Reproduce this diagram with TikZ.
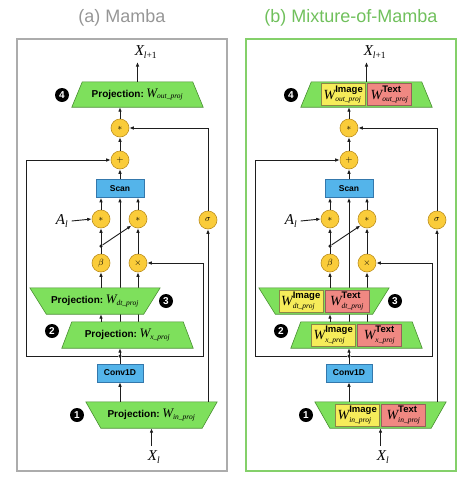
\documentclass[tikz,border=0pt]{standalone}
\usepackage{fontspec}
\setmainfont{Liberation Serif}
\setsansfont{Liberation Sans}
\usetikzlibrary{arrows.meta}
\pgfdeclarelayer{bg}
\pgfsetlayers{bg,main}

\definecolor{projgreen}{RGB}{126,224,92}
\definecolor{projedge}{RGB}{72,142,48}
\definecolor{scanblue}{RGB}{84,180,234}
\definecolor{scanedge}{RGB}{52,120,172}
\definecolor{opfill}{RGB}{250,204,58}
\definecolor{opedge}{RGB}{188,142,30}
\definecolor{imgfill}{RGB}{246,236,90}
\definecolor{imgedge}{RGB}{140,134,70}
\definecolor{txtfill}{RGB}{240,136,130}
\definecolor{txtedge}{RGB}{150,96,90}
\definecolor{framegray}{RGB}{172,172,172}
\definecolor{titlegray}{RGB}{150,150,150}
\definecolor{framegreen}{RGB}{132,208,106}
\definecolor{titlegreen}{RGB}{112,192,92}
\definecolor{wire}{RGB}{30,30,30}

\newcommand{\projlbl}[1]{\textsf{\bfseries Projection:}\ $\mbox{\fontsize{13}{13}\selectfont\itshape W}_{\mbox{\fontsize{7.5}{8}\selectfont\itshape #1}}$}
\newcommand{\wlbl}[2]{$\mbox{\fontsize{14}{14}\selectfont\itshape W}^{\mbox{\fontsize{9.5}{10}\selectfont\sffamily\bfseries #1}}_{\mbox{\fontsize{7.5}{8}\selectfont\itshape #2}}$}
\newcommand{\varlbl}[2]{$\mbox{\fontsize{15}{15}\selectfont\itshape #1}_{\mbox{\fontsize{9.5}{10}\selectfont #2}}$}
% trapezoid drawn on a named spot: name, top inset, bottom inset
\newcommand{\trap}[3]{%
  \filldraw[draw=projedge, fill=projgreen, line width=0.6pt]
    ([xshift=#2]#1.north west) -- ([xshift=-#2]#1.north east)
    -- ([xshift=-#3]#1.south east) -- ([xshift=#3]#1.south west) -- cycle;}

\tikzset{
  ttl/.style={font=\sffamily\fontsize{18}{20}\selectfont},
  arr/.style={draw=wire, line width=0.9pt, -{Latex[length=4.5pt,width=3.6pt]}},
  projspot/.style={rectangle, minimum width=131pt, minimum height=26pt, inner sep=0pt},
  opnode/.style={circle, draw=opedge, fill=opfill, line width=0.6pt, minimum size=18pt, inner sep=0pt, font=\fontsize{9.5}{9.5}\selectfont},
  blockbox/.style={rectangle, draw=scanedge, fill=scanblue, line width=0.6pt, minimum height=18pt, inner sep=0pt, font=\sffamily\bfseries\fontsize{8.5}{9}\selectfont},
  badge/.style={circle, fill=black, minimum size=14pt, inner sep=0pt, text=white, font=\sffamily\bfseries\fontsize{10}{10}\selectfont},
  imgbox/.style={rectangle, draw=imgedge, fill=imgfill, line width=0.6pt, minimum width=44pt, minimum height=22pt, inner sep=0pt},
  txtbox/.style={rectangle, draw=txtedge, fill=txtfill, line width=0.6pt, minimum width=44pt, minimum height=22pt, inner sep=0pt},
  joint/.style={circle, fill=wire, inner sep=0pt, minimum size=3.5pt},
}

\begin{document}
\begin{tikzpicture}[x=1pt, y=-1pt]
\useasboundingbox (0,0) rectangle (474,485);
\node[ttl, text=titlegray] (ttla) at (122,18) {(a) Mamba};
\node[ttl, text=titlegreen] (ttlb) at (351,18) {(b) Mixture-of-Mamba};

\foreach \p/\dx/\fc in {a/0/framegray, b/229/framegreen}{
  \begin{scope}[xshift=\dx]
    \draw[draw=\fc, line width=2pt] (17,39) rectangle (227,471);
    % projections
    \node[projspot, minimum height=25pt] (\p-outp) at (137.5,94.5) {};
    \node[projspot, minimum width=130pt] (\p-dtp) at (95,301) {};
    \node[projspot] (\p-xp) at (127.5,335) {};
    \node[projspot] (\p-inp) at (151.5,415) {};
    \trap{\p-outp}{10.5pt}{0pt}
    \trap{\p-dtp}{0pt}{16.5pt}
    \trap{\p-xp}{10pt}{0pt}
    \trap{\p-inp}{0pt}{15pt}
    \node[blockbox, minimum width=48pt] (\p-scan) at (120,188.5) {Scan};
    \node[blockbox, minimum width=46pt] (\p-conv) at (120,373) {Conv1D};
    % operators
    \node[opnode] (\p-mulo) at (120,128) {$\ast$};
    \node[opnode] (\p-plus) at (120,160) {$+$};
    \node[opnode] (\p-mula) at (101,219) {$\ast$};
    \node[opnode] (\p-mulb) at (138,219) {$\ast$};
    \node[opnode] (\p-beta) at (101,263) {$\beta$};
    \node[opnode] (\p-cross) at (138,263) {$\times$};
    \node[opnode] (\p-sig) at (208,220) {$\sigma$};
    \node[joint] (\p-dot) at (101,246) {};
    \node[joint] (\p-fork) at (120,356) {};
    \coordinate (\p-loopl) at (26,356);
    \coordinate (\p-loopr) at (203,356);
    \coordinate (\p-xo) at (137.5,62);
    \coordinate (\p-xi) at (151.5,446);
    % labels
    \node (\p-xout) at (146,52) {\varlbl{X}{\itshape l\upshape +1}};
    \node (\p-xin) at (154,457) {\varlbl{X}{\itshape l}};
    \node (\p-al) at (62,221) {\varlbl{A}{\itshape l}};
    \node[badge] (\p-n4) at (62,95) {4};
    \node[badge] (\p-n3) at (166,301) {3};
    \node[badge] (\p-n2) at (52,331) {2};
    \node[badge] (\p-n1) at (77,415) {1};
    % connectors
    \begin{pgfonlayer}{bg}
      \draw[arr] (\p-xp.north -| \p-scan.south) -- (\p-scan.south);
      \draw[arr] (\p-cross.south |- \p-xp.north) -- (\p-cross.south);
    \end{pgfonlayer}
    \draw[arr] (\p-outp.north) -- (\p-xo);
    \draw[arr] (\p-xi) -- (\p-inp.south);
    \draw[arr] (\p-mulo.north) -- (\p-mulo.north |- \p-outp.south);
    \foreach \from/\to in {plus/mulo, scan/plus, cross/mulb, beta/mula}
      \draw[arr] (\p-\from.north) -- (\p-\to.south);
    \draw[arr] (\p-mula.north) -- (\p-mula.north |- \p-scan.south);
    \draw[arr] (\p-mulb.north) -- (\p-mulb.north |- \p-scan.south);
    \draw[arr] (\p-dot) -- (\p-mulb.south west);
    \draw[arr] (\p-al.east) -- (\p-mula.west);
    \draw[arr] (\p-beta.south |- \p-dtp.north) -- (\p-beta.south);
    \draw[arr] (\p-beta.south |- \p-xp.north) -- (\p-beta.south |- \p-dtp.south);
    \draw[arr] (\p-conv.north) -- (\p-conv.north |- \p-xp.south);
    \draw[arr] (\p-conv.south |- \p-inp.north) -- (\p-conv.south);
    \draw[arr] (\p-sig.south |- \p-inp.north) -- (\p-sig.south);
    \draw[arr] (\p-sig.north) |- (\p-mulo.east);
    \draw[arr] (\p-fork) -- (\p-loopl) |- (\p-plus.west);
    \draw[arr] (\p-fork) -- (\p-loopr) |- (\p-cross.east);
  \end{scope}
}

% (a) labels
\node (a-outtxt) at (a-outp) {\projlbl{out\_proj}};
\node (a-dttxt) at (a-dtp) {\projlbl{dt\_proj}};
\node (a-xtxt) at (a-xp) {\projlbl{x\_proj}};
\node (a-intxt) at (a-inp) {\projlbl{in\_proj}};
% (b) expert weights
\foreach \w/\s in {outp/out\_proj, dtp/dt\_proj, xp/x\_proj, inp/in\_proj}{
  \node[imgbox, xshift=-23pt] (b-\w img) at (b-\w) {\wlbl{Image}{\s}};
  \node[txtbox, xshift=23pt] (b-\w txt) at (b-\w) {\wlbl{Text}{\s}};
}
\end{tikzpicture}
\end{document}
